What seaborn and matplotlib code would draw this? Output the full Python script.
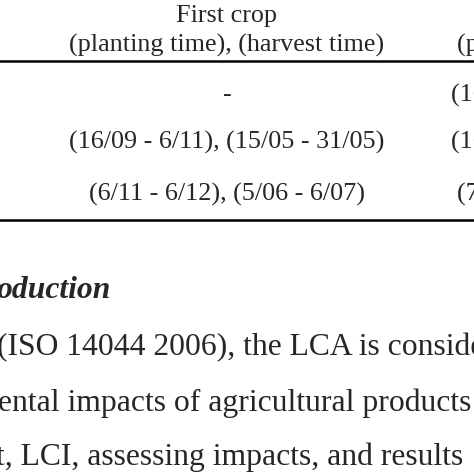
import matplotlib
matplotlib.use("Agg")
import matplotlib.pyplot as plt
import seaborn as sns

# -------------------- Content --------------------
header_first = ["First crop", "(planting time), (harvest time)"]
header_second = "(planting time), (harvest time)"
first_crop = ["-", "(16/09 - 6/11), (15/05 - 31/05)", "(6/11 - 6/12), (5/06 - 6/07)"]
second_crop = ["(16/09 - 6/11)", "(16/09 - 6/11)", "(7/06 - 6/07)"]
heading = ["Crop pr", "oduction"]
body = [
    ["standard ", "(ISO 14044 2006), the LCA is considered"],
    ["environm", "ental impacts of agricultural products"],
    ["goal and scop", "t, LCI, assessing impacts, and results"],
]

sns.set_style("white")
plt.rcParams["font.family"] = ["Liberation Serif", "DejaVu Serif"]

fig = plt.figure(figsize=(4.74, 4.74), dpi=100)
ax = fig.add_axes([0, 0, 1, 1])
ax.set_xlim(0, 474)
ax.set_ylim(474, 0)
ax.axis("off")

fs_tab = 18.8
col1_x, col2_x = 227, 451
ax.text(col1_x, 16, header_first[0], ha="center", va="center", fontsize=fs_tab)
ax.text(col1_x, 45, header_first[1], ha="center", va="center", fontsize=fs_tab)
ax.text(col2_x + 6, 45, header_second, ha="left", va="center", fontsize=fs_tab)

row_y = [95, 142, 194]
for y, a, b in zip(row_y, first_crop, second_crop):
    ax.text(col1_x, y, a, ha="center", va="center", fontsize=fs_tab)
    ax.text(col2_x + (6 if b.startswith("(7") else 0), y, b, ha="left", va="center", fontsize=fs_tab)

for y in [61, 220]:
    ax.plot([0, 474], [y, y], color="black", lw=1.8)

fs_body = 22.8
ax.text(0, 291, heading[0], ha="right", va="center", fontsize=fs_body,
        fontweight="bold", fontstyle="italic")
ax.text(-4, 291, heading[1], ha="left", va="center", fontsize=fs_body,
        fontweight="bold", fontstyle="italic")
for y, (pre, txt), dx in zip([348, 403, 457], body, [-3, -2, -4]):
    ax.text(dx, y, pre, ha="right", va="center", fontsize=fs_body)
    ax.text(dx, y, txt, ha="left", va="center", fontsize=fs_body)

fig.savefig("out.png", dpi=100, facecolor="white")
